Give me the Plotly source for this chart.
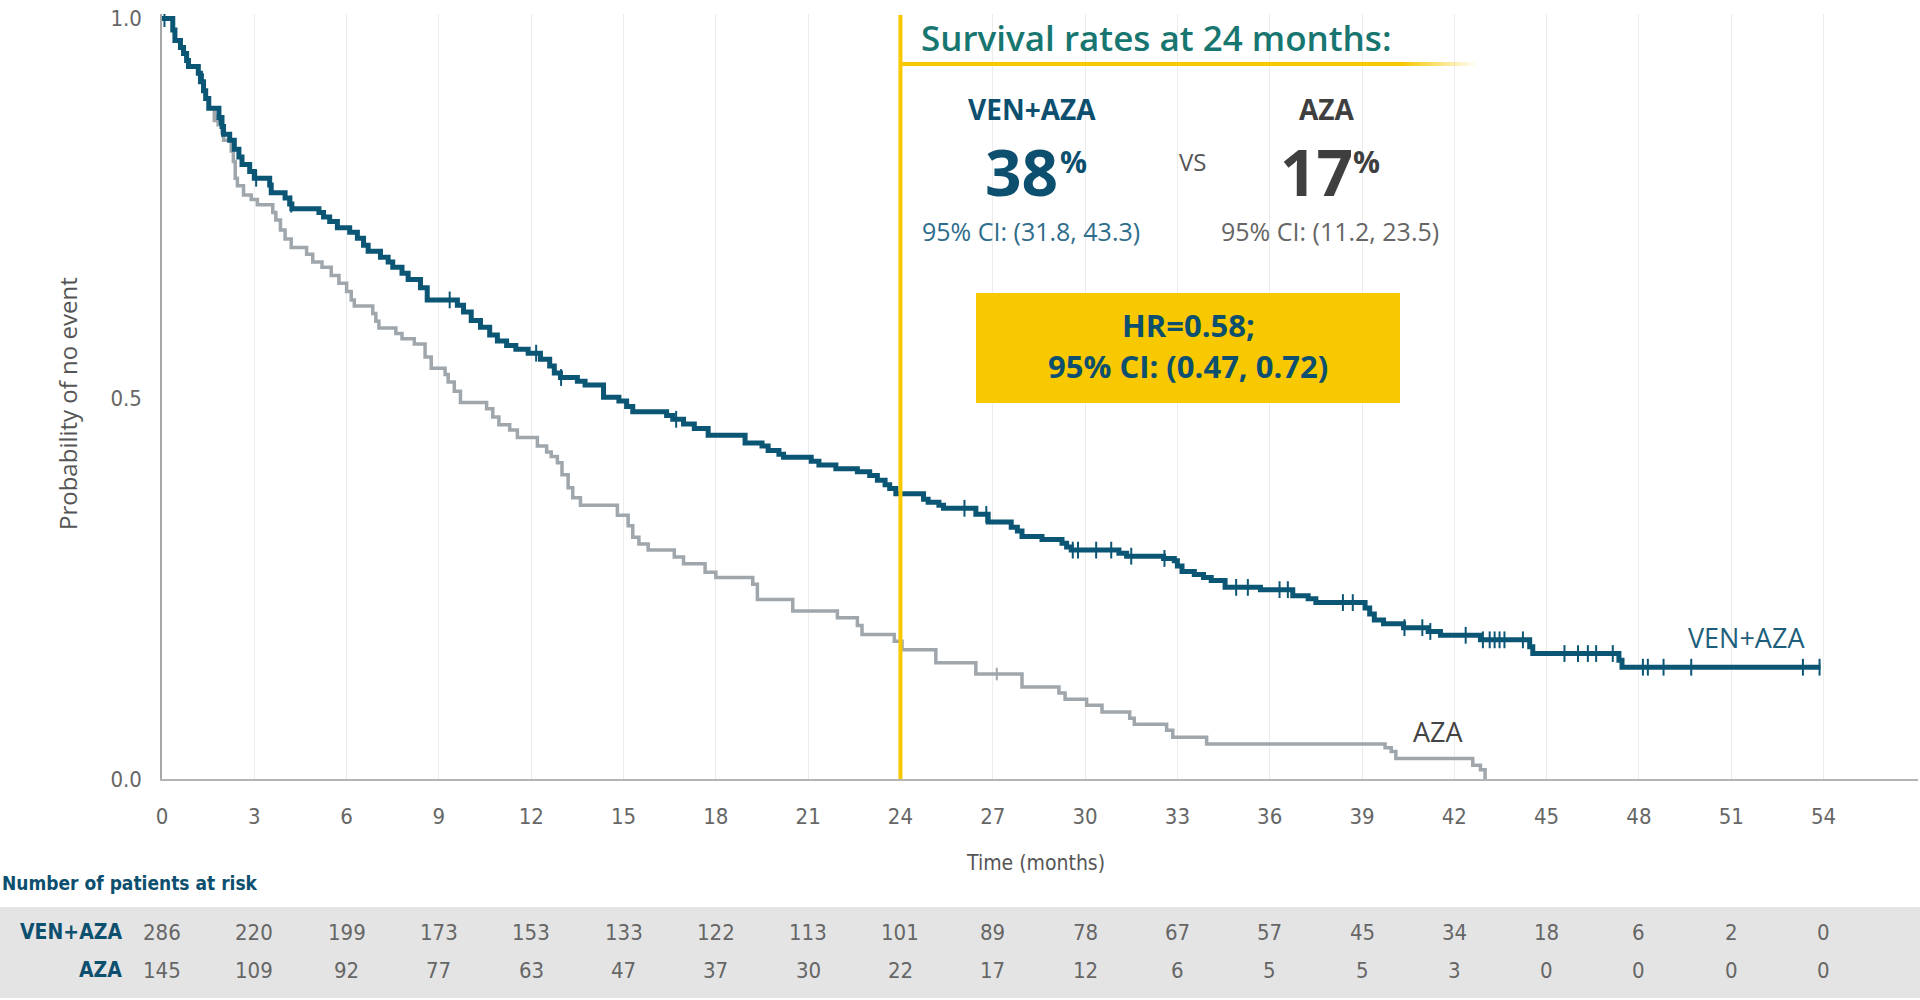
import numpy as np
import plotly.graph_objects as go

# ---------------- data ----------------
ven_t = [0.35, 0.42, 0.6, 0.7, 0.8, 0.86, 1.18, 1.25, 1.35, 1.42, 1.52, 1.85, 1.95, 2.0, 2.2, 2.35,
         2.5, 2.6, 2.85, 3.0, 3.5, 3.55, 4.0, 4.15, 4.22, 5.1, 5.25, 5.45, 5.7, 6.1, 6.35, 6.55,
         6.7, 7.1, 7.35, 7.5, 7.8, 8.0, 8.4, 8.62, 9.6, 9.8, 10.05, 10.35, 10.65, 10.9, 11.2, 11.5,
         11.9, 12.3, 12.6, 12.75, 12.95, 13.5, 13.75, 14.35, 14.85, 15.1, 15.3, 16.4, 16.6, 16.95,
         17.3, 17.75, 18.95, 19.5, 19.7, 20.05, 20.2, 21.1, 21.35, 21.9, 22.6, 23.0, 23.25, 23.5,
         23.65, 23.85, 24.75, 24.9, 25.25, 25.4, 26.45, 26.85, 27.6, 27.8, 27.95, 28.6, 29.25, 29.4,
         29.55, 31.1, 31.35, 32.55, 32.9, 33.0, 33.15, 33.55, 33.85, 34.1, 34.55, 35.7, 36.75, 37.25,
         37.5, 39.1, 39.25, 39.4, 39.7, 40.35, 41.15, 41.55, 42.85, 44.45, 44.55, 47.35, 47.45]
ven_s = [0.985, 0.971, 0.962, 0.954, 0.945, 0.937, 0.928, 0.917, 0.905, 0.895, 0.882, 0.870, 0.858,
         0.848, 0.840, 0.828, 0.818, 0.808, 0.799, 0.790, 0.781, 0.771, 0.764, 0.756, 0.750, 0.745,
         0.739, 0.733, 0.725, 0.719, 0.711, 0.702, 0.694, 0.686, 0.680, 0.673, 0.665, 0.657, 0.646,
         0.630, 0.623, 0.614, 0.603, 0.594, 0.584, 0.576, 0.570, 0.565, 0.560, 0.552, 0.543, 0.534,
         0.528, 0.523, 0.518, 0.502, 0.497, 0.490, 0.483, 0.478, 0.473, 0.467, 0.461, 0.452, 0.442,
         0.438, 0.432, 0.427, 0.423, 0.418, 0.413, 0.408, 0.404, 0.399, 0.393, 0.387, 0.382, 0.375,
         0.368, 0.364, 0.360, 0.356, 0.348, 0.338, 0.331, 0.326, 0.319, 0.315, 0.310, 0.305, 0.301,
         0.297, 0.293, 0.290, 0.287, 0.280, 0.273, 0.269, 0.265, 0.261, 0.252, 0.249, 0.241, 0.237,
         0.232, 0.225, 0.217, 0.209, 0.204, 0.199, 0.194, 0.189, 0.183, 0.174, 0.165, 0.156, 0.147]
ven_end = 53.9
ven_censor = [0.08, 1.33, 1.87, 3.06, 4.2, 9.35, 12.16, 12.97, 16.71, 26.08, 26.79, 29.6, 29.77,
              30.36, 30.85, 31.5, 32.58, 34.91, 35.29, 36.32, 36.59, 38.38, 38.7, 40.38, 40.96,
              41.22, 42.37, 42.93, 43.15, 43.31, 43.47, 43.63, 44.23, 45.58, 46.02, 46.34, 46.61,
              47.15, 48.13, 48.29, 48.8, 49.7, 53.33, 53.87]

aza_t = [0.35, 0.42, 0.6, 0.7, 0.8, 0.86, 1.18, 1.25, 1.35, 1.42, 1.52, 1.7, 1.95, 2.0, 2.25, 2.32,
         2.38, 2.45, 2.65, 2.9, 3.1, 3.6, 3.7, 3.85, 4.0, 4.2, 4.7, 4.9, 5.2, 5.5, 5.75, 6.0, 6.15,
         6.25, 6.85, 6.95, 7.05, 7.6, 7.8, 8.2, 8.55, 8.75, 9.2, 9.3, 9.5, 9.7, 10.55, 10.75, 10.95,
         11.3, 11.55, 12.2, 12.5, 12.65, 12.85, 13.0, 13.2, 13.35, 13.6, 14.8, 15.15, 15.3, 15.5,
         15.8, 16.65, 16.95, 17.65, 18.0, 19.2, 19.35, 20.5, 21.95, 22.6, 22.75, 23.8, 24.05, 25.15,
         26.45, 27.95, 29.15, 29.35, 30.05, 30.55, 31.45, 31.6, 32.65, 32.85, 33.95, 39.75, 39.95,
         40.1, 42.6, 42.85, 43.0]
aza_s = [0.985, 0.971, 0.962, 0.954, 0.945, 0.937, 0.928, 0.917, 0.905, 0.895, 0.882, 0.866, 0.850,
         0.840, 0.826, 0.812, 0.790, 0.780, 0.768, 0.762, 0.755, 0.745, 0.735, 0.722, 0.710, 0.699,
         0.690, 0.680, 0.673, 0.662, 0.652, 0.641, 0.630, 0.622, 0.612, 0.602, 0.593, 0.586, 0.579,
         0.572, 0.555, 0.540, 0.532, 0.522, 0.510, 0.495, 0.487, 0.476, 0.466, 0.459, 0.449, 0.438,
         0.430, 0.424, 0.416, 0.400, 0.383, 0.370, 0.360, 0.347, 0.333, 0.318, 0.309, 0.301, 0.292,
         0.283, 0.272, 0.265, 0.256, 0.236, 0.221, 0.212, 0.202, 0.190, 0.181, 0.170, 0.153, 0.138,
         0.121, 0.113, 0.105, 0.097, 0.088, 0.080, 0.072, 0.064, 0.055, 0.046, 0.041, 0.036, 0.027,
         0.018, 0.012, 0.0]
aza_censor = [1.8, 27.13]

risk_times = list(range(0, 55, 3))
risk_ven = [286, 220, 199, 173, 153, 133, 122, 113, 101, 89, 78, 67, 57, 45, 34, 18, 6, 2, 0]
risk_aza = [145, 109, 92, 77, 63, 47, 37, 30, 22, 17, 12, 6, 5, 5, 3, 0, 0, 0, 0]

x_ticks = list(range(0, 55, 3))
y_ticks = [0.0, 0.5, 1.0]
y_tick_labels = ["0.0", "0.5", "1.0"]

# ---------------- styles ----------------
TEAL = "#0b5575"
GREY_LINE = "#9fa6ac"
GOLD = "#f8c800"
NARROW = "Liberation Sans Narrow, DejaVu Sans Condensed, Arial Narrow, sans-serif"
SANS = "Open Sans, Noto Sans, sans-serif"

L, T, W, H = 162, 14, 1756, 765


def px(x):
    return (x - L) / W


def py(y):
    return (T + H - y) / H


def step_value(times, surv, t):
    idx = np.searchsorted(np.array(times), t, side="right") - 1
    return 1.0 if idx < 0 else surv[idx]


fig = go.Figure()

fig.add_trace(go.Scatter(
    x=[0] + aza_t, y=[1.0] + aza_s, mode="lines", line=dict(color=GREY_LINE, width=3.5, shape="hv"),
    hoverinfo="skip", showlegend=False))
fig.add_trace(go.Scatter(
    x=aza_censor, y=[step_value(aza_t, aza_s, t) for t in aza_censor], mode="markers",
    marker=dict(symbol="line-ns", size=9, line=dict(color=GREY_LINE, width=2)),
    hoverinfo="skip", showlegend=False))
fig.add_trace(go.Scatter(
    x=[0] + ven_t + [ven_end], y=[1.0] + ven_s + [ven_s[-1]], mode="lines",
    line=dict(color=TEAL, width=5, shape="hv"), hoverinfo="skip", showlegend=False))
fig.add_trace(go.Scatter(
    x=ven_censor, y=[step_value(ven_t, ven_s, t) for t in ven_censor], mode="markers",
    marker=dict(symbol="line-ns", size=12, line=dict(color=TEAL, width=2)),
    hoverinfo="skip", showlegend=False))

shapes = []
# grey band of the risk table
shapes.append(dict(type="rect", xref="paper", yref="paper", x0=px(0), x1=px(1920), y0=py(998), y1=py(907),
                   fillcolor="#e4e4e4", line=dict(width=0), layer="below"))
# vertical yellow line at 24 months
shapes.append(dict(type="line", xref="x", yref="paper", x0=24, x1=24, y0=0, y1=py(15),
                   line=dict(color=GOLD, width=4)))
# horizontal yellow line (solid then fading)
shapes.append(dict(type="line", xref="paper", yref="paper", x0=px(901), x1=px(1405), y0=py(64), y1=py(64),
                   line=dict(color=GOLD, width=4)))
nfade = 14
for i in range(nfade):
    a = 1 - (i + 1) / (nfade + 1)
    x0 = 1405 + i * 5
    shapes.append(dict(type="line", xref="paper", yref="paper", x0=px(x0), x1=px(x0 + 5), y0=py(64), y1=py(64),
                       line=dict(color=f"rgba(248,200,0,{a:.2f})", width=4)))
# HR box
shapes.append(dict(type="rect", xref="paper", yref="paper", x0=px(976), x1=px(1400), y0=py(403), y1=py(293),
                   fillcolor=GOLD, line=dict(width=0)))

ann = []


def A(text, x, y, size, color, family=SANS, xanchor="center", weight=None, xref="paper", angle=0):
    f = dict(size=size, color=color, family=family)
    if weight:
        f["weight"] = weight
    ann.append(dict(text=text, x=x if xref != "paper" else px(x), y=py(y), xref=xref, yref="paper",
                    xanchor=xanchor, yanchor="middle", showarrow=False, font=f, textangle=angle))


A("Survival rates at 24 months:", 919, 37, 35, "#17766f", xanchor="left", weight=600)
A("VEN+AZA", 1032, 109, 28, "#0d4f6e", weight=700)
A("AZA", 1327, 109, 28, "#3f3f3f", weight=700)
A("38", 1021, 171, 64, "#0d4f6e", weight=700)
A("%", 1073, 161, 30, "#0d4f6e", weight=700)
A("17", 1316, 171, 64, "#3f3f3f", weight=700)
A("%", 1366, 161, 30, "#3f3f3f", weight=700)
A("VS", 1192, 162, 24, "#555555")
A("95% CI: (31.8, 43.3)", 1031, 231, 25, "#2e6d8c")
A("95% CI: (11.2, 23.5)", 1330, 231, 25, "#666666")
A("HR=0.58;", 1188, 325, 31, "#0d4f6e", weight=700)
A("95% CI: (0.47, 0.72)", 1188, 366, 31, "#0d4f6e", weight=700)

A("VEN+AZA", 1746, 637, 27, "#1d5f7b")
A("AZA", 1438, 731, 27, "#444444")

A("Probability of no event", 67, 404, 24, "#555555", angle=-90)
A("Time (months)", 1035, 863, 21, "#555555", family=NARROW)
A("Number of patients at risk", 0, 883, 19, "#0d4f6e", family=NARROW, xanchor="left", weight=700)

A("VEN+AZA", 124, 932, 21, "#0d4f6e", family=NARROW, xanchor="right", weight=700)
A("AZA", 124, 970, 21, "#0d4f6e", family=NARROW, xanchor="right", weight=700)
for t, v in zip(risk_times, risk_ven):
    A(str(v), t, 932, 22, "#666666", family=NARROW, xref="x")
for t, v in zip(risk_times, risk_aza):
    A(str(v), t, 970, 22, "#666666", family=NARROW, xref="x")

fig.update_layout(
    width=1920, height=1000,
    margin=dict(l=L, r=1920 - L - W, t=T, b=1000 - T - H),
    paper_bgcolor="white", plot_bgcolor="white",
    shapes=shapes, annotations=ann,
    xaxis=dict(range=[0, 57.07], tickmode="array", tickvals=x_ticks, ticktext=[str(v) for v in x_ticks],
               showgrid=True, gridcolor="#ececec", gridwidth=1, zeroline=False,
               showline=True, linecolor="#b4b4b4", linewidth=2,
               ticks="outside", ticklen=17, tickcolor="rgba(0,0,0,0)",
               tickfont=dict(family=NARROW, size=22, color="#666666")),
    yaxis=dict(range=[0, 1.006], tickmode="array", tickvals=y_ticks, ticktext=y_tick_labels,
               showgrid=False, zeroline=False, showline=True, linecolor="#a8a8a8", linewidth=1.5,
               ticks="outside", ticklen=14, tickcolor="rgba(0,0,0,0)",
               tickfont=dict(family=NARROW, size=22, color="#666666")),
)

fig.write_html("out.html")
